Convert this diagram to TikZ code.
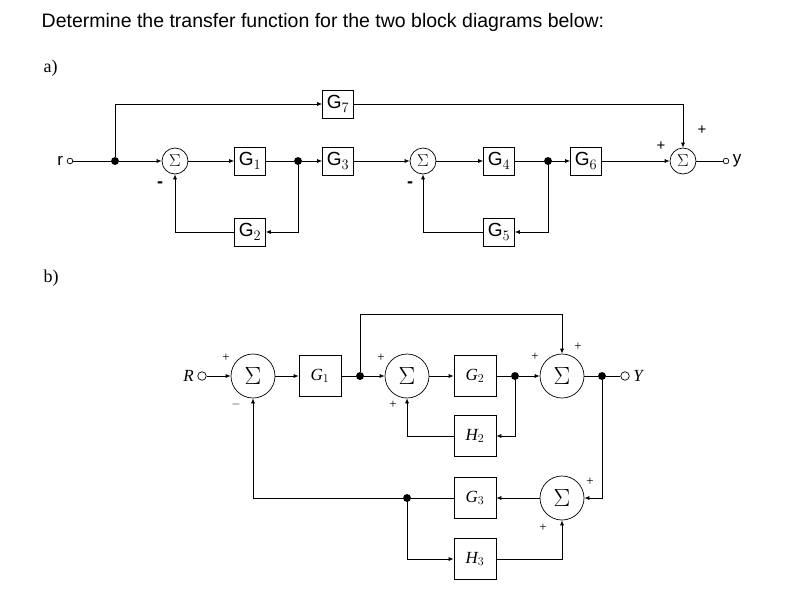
\documentclass[tikz,border=0pt]{standalone}
\usepackage{fontspec}
\setmainfont{Liberation Serif}
\newfontfamily\arialfont{Liberation Sans}
\usetikzlibrary{arrows.meta}

\begin{document}
\begin{tikzpicture}[
    x=1pt, y=-1pt,
    line width=0.7pt,
    >={Latex[length=5pt,width=4pt]},
    blockA/.style={                         % Blocks of part a
        rectangle, draw, minimum width=31pt, minimum height=28pt,
        font=\arialfont\fontsize{19}{19}\selectfont
    },
    blockB/.style={                         % Blocks of part b
        rectangle, draw, minimum width=42pt, minimum height=41pt,
        font=\itshape\fontsize{17}{17}\selectfont
    },
    sumA/.style={circle, draw, minimum size=26pt, inner sep=0pt, font=\fontsize{17}{17}\selectfont},
    sumB/.style={circle, draw, minimum size=44pt, inner sep=0pt, font=\fontsize{24}{24}\selectfont},
    dot/.style={circle, fill, inner sep=2.8pt},
    term/.style={circle, draw, inner sep=3pt, fill=white},
    sgn/.style={inner sep=0pt, font=\fontsize{13}{13}\selectfont}
]
\useasboundingbox (0,0) rectangle (793,598);

% Heading
\node[anchor=west, font=\arialfont\fontsize{19.5}{19.5}\selectfont] (title) at (38,22)
    {Determine the transfer function for the two block diagrams below:};
\node[anchor=west, font=\fontsize{18}{18}\selectfont] (la) at (40,68) {a)};
\node[anchor=west, font=\fontsize{18}{18}\selectfont] (lb) at (40,278) {b)};

% ---------- a) ----------
\node[term, inner sep=2pt] (r) at (70,161) {};
\node[anchor=east, font=\arialfont\fontsize{17}{17}\selectfont] (rl) at (r.west) {r};
\node[dot] (d1) at (115,161) {};
\node[sumA] (s1) at (175,161) {$\Sigma$};
\node[blockA] (G1) at (250,161) {G$_1$};
\node[dot] (d2) at (298,161) {};
\node[blockA] (G3) at (338,161) {G$_3$};
\node[blockA] (G7) at (338,104) {G$_7$};
\node[blockA] (G2) at (250,232) {G$_2$};
\node[sumA] (s2) at (423,161) {$\Sigma$};
\node[blockA] (G4) at (499,161) {G$_4$};
\node[dot] (d3) at (548,161) {};
\node[blockA] (G6) at (586,161) {G$_6$};
\node[blockA] (G5) at (499,232) {G$_5$};
\node[sumA] (s3) at (683,161) {$\Sigma$};
\node[term, inner sep=2pt] (y) at (726,161) {};
\node[anchor=west, font=\arialfont\fontsize{17}{17}\selectfont] (yl) at (y.east) {y};

\draw (r) -- (d1);
\draw[->] (d1) -- (s1);
\draw[->] (d1) |- (G7);
\draw[->] (s1) -- (G1);
\draw (G1) -- (d2);
\draw[->] (d2) -- (G3);
\draw[->] (d2) |- (G2);
\draw[->] (G2) -| (s1);
\draw[->] (G3) -- (s2);
\draw[->] (s2) -- (G4);
\draw (G4) -- (d3);
\draw[->] (d3) -- (G6);
\draw[->] (d3) |- (G5);
\draw[->] (G5) -| (s2);
\draw[->] (G6) -- (s3);
\draw[->] (G7) -| (s3);
\draw (s3) -- (y);

\node[sgn, font=\arialfont\fontsize{18}{18}\bfseries] (m1) at (160,185) {-};
\node[sgn, font=\arialfont\fontsize{18}{18}\bfseries] (m2) at (410,185) {-};
\node[sgn, font=\arialfont\fontsize{15}{15}\selectfont] (p1) at (661,146) {+};
\node[sgn, font=\arialfont\fontsize{15}{15}\selectfont] (p2) at (702,130) {+};

% ---------- b) ----------
\node[term] (R) at (202,376) {};
\node[anchor=east, font=\itshape\fontsize{17}{17}\selectfont] (Rl) at (R.west) {R};
\node[sumB] (t1) at (253,376) {$\Sigma$};
\node[blockB] (B1) at (320,376) {G$_1$};
\node[dot] (e1) at (360,376) {};
\node[sumB] (t2) at (407,376) {$\Sigma$};
\node[blockB] (B2) at (475,376) {G$_2$};
\node[dot] (e2) at (515,376) {};
\node[sumB] (t3) at (562,376) {$\Sigma$};
\node[dot] (e3) at (602,376) {};
\node[term] (Y) at (625,376) {};
\node[anchor=west, font=\itshape\fontsize{17}{17}\selectfont] (Yl) at (Y.east) {Y};
\node[blockB] (BH2) at (475,436) {H$_2$};
\node[blockB] (B3) at (475,498) {G$_3$};
\node[sumB] (t4) at (562,498) {$\Sigma$};
\node[dot] (e4) at (407,498) {};
\node[blockB] (BH3) at (475,559) {H$_3$};
\coordinate (top) at (360,314);

\draw[->] (R) -- (t1);
\draw[->] (t1) -- (B1);
\draw (B1) -- (e1);
\draw[->] (e1) -- (t2);
\draw[->] (t2) -- (B2);
\draw (B2) -- (e2);
\draw[->] (e2) -- (t3);
\draw (t3) -- (e3) -- (Y);
\draw (e1) -- (top);
\draw[->] (top) -| (t3);
\draw[->] (e2) |- (BH2);
\draw[->] (BH2) -| (t2);
\draw[->] (e3) |- (t4);
\draw[->] (t4) -- (B3);
\draw (B3) -- (e4);
\draw[->] (e4) -| (t1);
\draw[->] (e4) |- (BH3);
\draw[->] (BH3) -| (t4);

\node[sgn] (q1) at (226,358) {+};
\node[sgn] (q2) at (236,404) {$-$};
\node[sgn] (q3) at (381,358) {+};
\node[sgn] (q4) at (393,405) {+};
\node[sgn] (q5) at (535,357) {+};
\node[sgn] (q6) at (578,347) {+};
\node[sgn] (q7) at (590,482) {+};
\node[sgn] (q8) at (543,528) {+};
\end{tikzpicture}
\end{document}
